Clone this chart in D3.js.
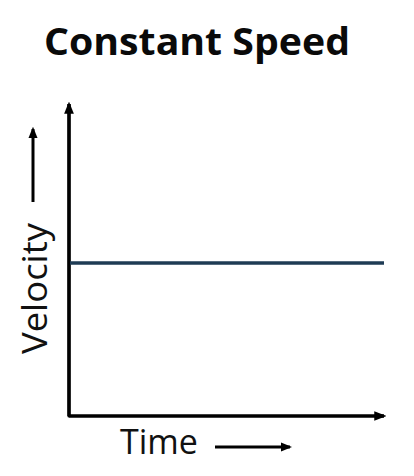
<!DOCTYPE html>
<html><head><meta charset="utf-8">
<script src="https://cdn.jsdelivr.net/npm/d3@7"></script>
<style>html,body{margin:0;padding:0;background:#fff;}svg{display:block;}</style>
</head><body>
<script>
const title = "Constant Speed";
const xLabel = "Time";
const yLabel = "Velocity";
const time = [0, 10];
const velocity = [4.9, 4.9];

const W = 414, H = 476;
const svg = d3.select("body").append("svg").attr("width", W).attr("height", H);

const x = d3.scaleLinear().domain([0, 10]).range([70, 384]);
const y = d3.scaleLinear().domain([0, 10]).range([416, 104]);

const defs = svg.append("defs");
defs.append("marker").attr("id","ah").attr("viewBox","0 0 10 10").attr("refX",8).attr("refY",5)
  .attr("markerWidth",3.8).attr("markerHeight",3.8).attr("orient","auto").attr("markerUnits","strokeWidth")
  .append("path").attr("d","M0,1 L10,5 L0,9 Z").attr("fill","#000");

// title
svg.append("text").attr("x", 197).attr("y", 55).attr("text-anchor","middle")
  .attr("font-family","Open Sans, sans-serif").attr("font-weight",700).attr("font-size",38)
  .attr("textLength",306).attr("lengthAdjust","spacingAndGlyphs")
  .attr("fill","#0a0a0a").text(title);

// axes
svg.append("path")
  .attr("d", `M${x(0)-1},${y(10)}V${y(0)}H${x(10)}`)
  .attr("fill","none").attr("stroke","#000").attr("stroke-width",3.2).attr("stroke-linejoin","round");
svg.append("line").attr("x1",x(0)-1).attr("y1",y(0)).attr("x2",x(0)-1).attr("y2",y(10))
  .attr("stroke","#000").attr("stroke-width",3.2).attr("marker-end","url(#ah)");
svg.append("line").attr("x1",x(0)-1).attr("y1",y(0)).attr("x2",x(10)).attr("y2",y(0))
  .attr("stroke","#000").attr("stroke-width",3.2).attr("marker-end","url(#ah)");

// data line
const line = d3.line().x((d,i)=>x(time[i])).y(d=>y(d));
svg.append("path").datum(velocity).attr("d", line)
  .attr("fill","none").attr("stroke","#1e3b54").attr("stroke-width",3.5);

// x label
svg.append("text").attr("x",120).attr("y",454).attr("font-family","Open Sans, sans-serif")
  .attr("font-size",34).attr("textLength",78).attr("lengthAdjust","spacingAndGlyphs")
  .attr("fill","#111").text(xLabel);
svg.append("line").attr("x1",215).attr("y1",447).attr("x2",290).attr("y2",447)
  .attr("stroke","#000").attr("stroke-width",3).attr("marker-end","url(#ah)");

// y label
svg.append("text").attr("transform","translate(47,354) rotate(-90)")
  .attr("font-family","Open Sans, sans-serif").attr("font-size",35)
  .attr("textLength",131).attr("lengthAdjust","spacingAndGlyphs")
  .attr("fill","#111").text(yLabel);
svg.append("line").attr("x1",33).attr("y1",202).attr("x2",33).attr("y2",129)
  .attr("stroke","#000").attr("stroke-width",3).attr("marker-end","url(#ah)");
</script>
</body></html>
